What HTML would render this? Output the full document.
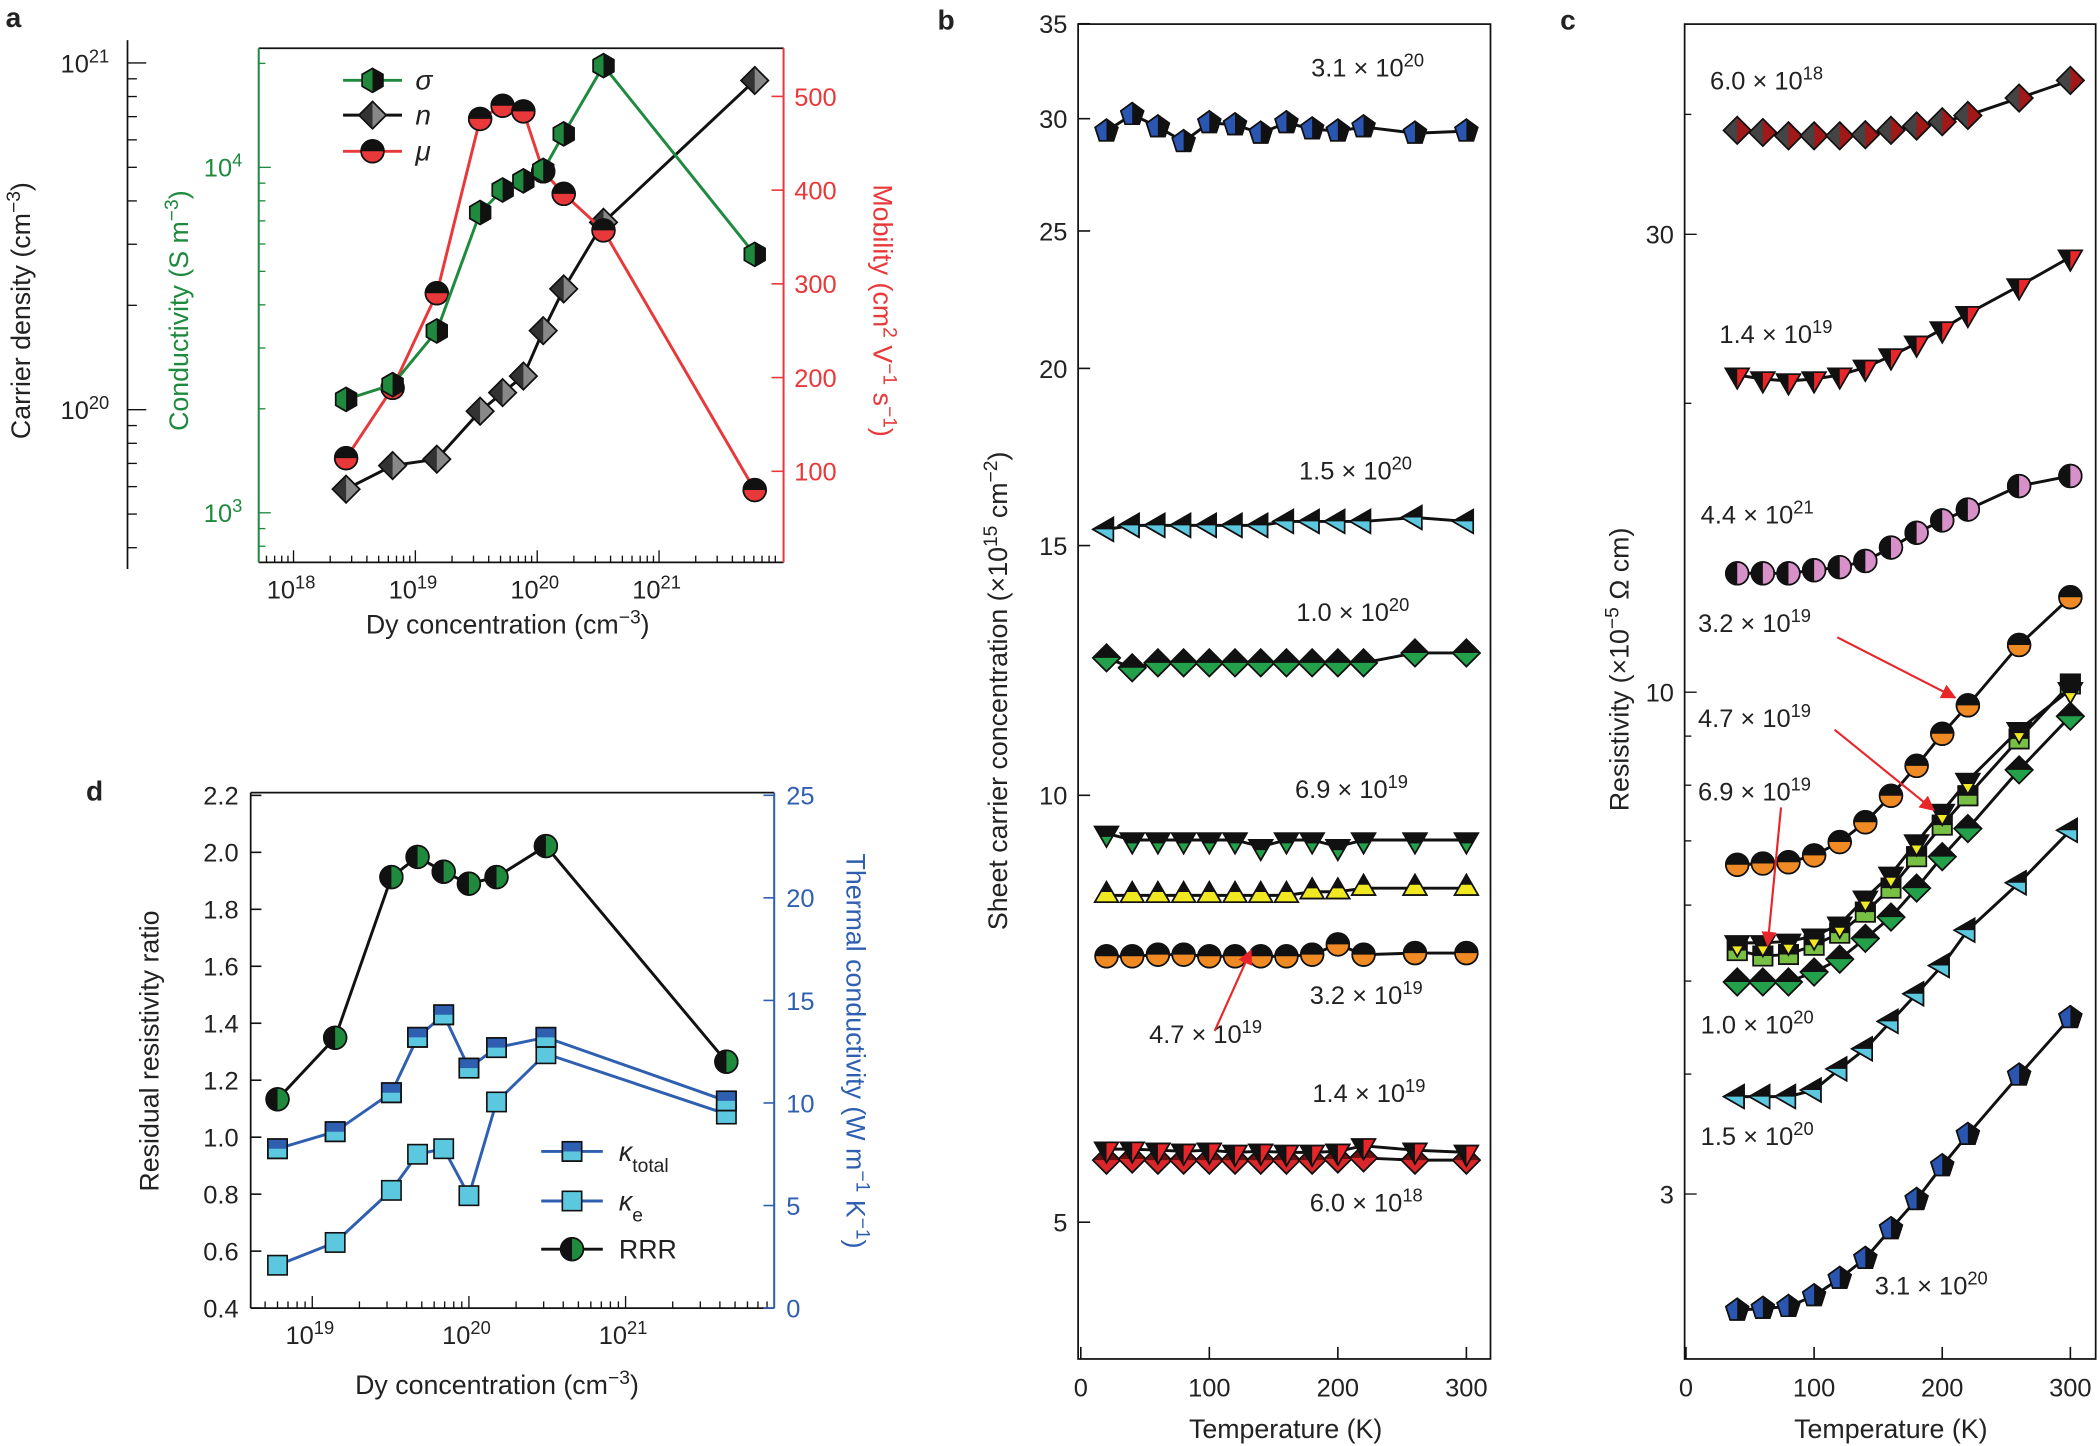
<!DOCTYPE html>
<html><head><meta charset="utf-8">
<style>
html,body{margin:0;padding:0;background:#fff;}
svg{display:block;font-family:"Liberation Sans",sans-serif;}
</style></head>
<body>
<svg id="fig" width="2100" height="1446" viewBox="0 0 1568 1080" xmlns="http://www.w3.org/2000/svg">
<defs>
<clipPath id="cL" clipPathUnits="objectBoundingBox"><rect x="0" y="0" width="0.5" height="1"/></clipPath>
<clipPath id="cR" clipPathUnits="objectBoundingBox"><rect x="0.5" y="0" width="0.5" height="1"/></clipPath>
<clipPath id="cT" clipPathUnits="objectBoundingBox"><rect x="0" y="0" width="1" height="0.5"/></clipPath>
<marker id="arr" viewBox="0 0 10 10" refX="9" refY="5" markerWidth="7" markerHeight="7" orient="auto"><path d="M0,0 L10,5 L0,10 z" fill="#e8262a"/></marker>
</defs>
</svg>
<script>
// ---------- DATA ----------
// Panel a
const aDy = [2.7e18, 6.5e18, 1.5e19, 3.4e19, 5.2e19, 7.7e19, 1.12e20, 1.65e20, 3.5e20, 6.1e21];
const aSigma = [2130, 2350, 3360, 7400, 8600, 9140, 9800, 12500, 19700, 5600];
const aN = [5.9e19, 6.9e19, 7.2e19, 9.9e19, 1.12e20, 1.25e20, 1.69e20, 2.23e20, 3.47e20, 8.9e20];
const aMu = [114, 189, 290, 476, 490, 484, 420, 396, 357, 80];
const aXTicks = [18, 19, 20, 21];
const aCarrierTicks = [20, 21];
const aSigmaTicks = [3, 4];
const aMuTicks = [100, 200, 300, 400, 500];
// Panel d
const dDy = [6.0e18, 1.4e19, 3.2e19, 4.7e19, 6.9e19, 1.0e20, 1.5e20, 3.1e20, 4.4e21];
const dRRR = [1.133, 1.349, 1.913, 1.984, 1.932, 1.890, 1.913, 2.022, 1.265];
const dKtot = [7.77, 8.6, 10.5, 13.2, 14.3, 11.7, 12.7, 13.2, 10.1];
const dKe = [2.09, 3.2, 5.74, 7.5, 7.77, 5.48, 10.05, 12.4, 9.46];
const dLeftTicks = [0.4, 0.6, 0.8, 1.0, 1.2, 1.4, 1.6, 1.8, 2.0, 2.2];
const dRightTicks = [0, 5, 10, 15, 20, 25];
const dXTicks = [19, 20, 21];
// Panel b
const bT = [20, 40, 60, 80, 100, 120, 140, 160, 180, 200, 220, 260, 300];
const b31e20 = [29.4, 30.2, 29.6, 28.9, 29.8, 29.7, 29.3, 29.8, 29.5, 29.4, 29.6, 29.3, 29.4];
const b15e20 = [15.4, 15.5, 15.5, 15.5, 15.5, 15.5, 15.5, 15.6, 15.6, 15.6, 15.6, 15.7, 15.6];
const b10e20 = [12.5, 12.3, 12.4, 12.4, 12.4, 12.4, 12.4, 12.4, 12.4, 12.4, 12.4, 12.6, 12.6];
const b69e19 = [9.4, 9.3, 9.3, 9.3, 9.3, 9.3, 9.2, 9.3, 9.3, 9.2, 9.3, 9.3, 9.3];
const b47e19 = [8.5, 8.5, 8.5, 8.5, 8.5, 8.5, 8.5, 8.5, 8.55, 8.55, 8.6, 8.6, 8.6];
const b32e19 = [7.7, 7.7, 7.72, 7.72, 7.7, 7.7, 7.7, 7.7, 7.72, 7.85, 7.72, 7.74, 7.74];
const b14e19 = [5.63, 5.63, 5.62, 5.61, 5.62, 5.6, 5.61, 5.6, 5.6, 5.61, 5.66, 5.62, 5.6];
const b60e18 = [5.53, 5.54, 5.53, 5.53, 5.53, 5.53, 5.53, 5.53, 5.53, 5.54, 5.55, 5.53, 5.53];
const bYTicks = [5, 10, 15, 20, 25, 30, 35];
const bXTicks = [0, 100, 200, 300];
// Panel c
const cT = [40, 60, 80, 100, 120, 140, 160, 180, 200, 220, 260, 300];
const c60e18 = [38.5, 38.3, 38.0, 38.0, 38.0, 38.1, 38.5, 38.9, 39.3, 39.9, 41.6, 43.4];
const c14e19 = [21.4, 21.2, 21.1, 21.2, 21.4, 21.8, 22.4, 23.1, 23.9, 24.8, 26.5, 28.4];
const c44e21 = [13.3, 13.3, 13.3, 13.4, 13.5, 13.7, 14.15, 14.66, 15.1, 15.5, 16.4, 16.8];
const c32e19 = [6.61, 6.63, 6.65, 6.76, 6.98, 7.32, 7.80, 8.38, 9.05, 9.69, 11.2, 12.56];
const c47e19 = [5.48, 5.48, 5.50, 5.57, 5.73, 6.10, 6.46, 6.98, 7.51, 8.09, 9.14, 10.06];
const c69e19 = [5.38, 5.31, 5.33, 5.45, 5.61, 5.90, 6.25, 6.74, 7.27, 7.80, 8.94, 10.2];
const c10e20 = [4.99, 4.99, 4.99, 5.11, 5.27, 5.54, 5.83, 6.25, 6.74, 7.21, 8.30, 9.44];
const c15e20 = [3.79, 3.79, 3.79, 3.85, 4.05, 4.25, 4.54, 4.85, 5.19, 5.65, 6.33, 7.18];
const c31e20 = [2.27, 2.28, 2.29, 2.35, 2.45, 2.57, 2.76, 2.96, 3.21, 3.46, 3.99, 4.58];
const cYTicks = [3, 10, 30];
const cXTicks = [0, 100, 200, 300];

// ---------- HELPERS ----------
const NS = "http://www.w3.org/2000/svg";
const svg = document.getElementById('fig');
function mk(tag, attrs, parent, name, inter) {
  const el = document.createElementNS(NS, tag);
  for (const k in attrs) el.setAttribute(k, attrs[k]);
  
  
  (parent || svg).appendChild(el);
  return el;
}
function txt(x, y, s, opts, parent, name) {
  const a = Object.assign({x: x, y: y, 'font-size': 19, fill: '#222'}, opts || {});
  const t = mk('text', a, parent, name);
  t.textContent = s;
  return t;
}
function supTxt(x, y, base, exp, tail, opts, parent, name) {
  const a = Object.assign({x: x, y: y, 'font-size': 19, fill: '#222'}, opts || {});
  const t = mk('text', a, parent, name);
  const s1 = mk('tspan', {}, t, name + '-base'); s1.textContent = base;
  const s2 = mk('tspan', {'baseline-shift': 'super', 'font-size': '72%'}, t, name + '-exp'); s2.textContent = exp;
  if (tail) { const s3 = mk('tspan', {}, t, name + '-tail'); s3.textContent = tail; }
  return t;
}
function line(x1, y1, x2, y2, stroke, w, parent, name) {
  return mk('line', {x1: x1, y1: y1, x2: x2, y2: y2, stroke: stroke, 'stroke-width': w || 1.3}, parent, name);
}
function polyPts(cx, cy, r, angles) {
  return angles.map(a => (cx + r * Math.cos(a * Math.PI / 180)).toFixed(2) + ',' + (cy + r * Math.sin(a * Math.PI / 180)).toFixed(2)).join(' ');
}
function shape(kind, x, y, r, fill, parent, name) {
  let el;
  if (kind === 'circle') el = mk('circle', {cx: x, cy: y, r: r}, parent, name);
  else if (kind === 'square') el = mk('rect', {x: x - r * 0.85, y: y - r * 0.85, width: r * 1.7, height: r * 1.7}, parent, name);
  else {
    const ang = {diamond: [-90, 0, 90, 180], hex: [-90, -30, 30, 90, 150, 210], pent: [-90, -18, 54, 126, 198],
      up: [-90, 30, 150], down: [90, 210, 330], left: [180, 300, 60]}[kind];
    const rr = kind === 'diamond' ? r * 1.2 : (kind === 'up' || kind === 'down' || kind === 'left') ? r * 1.2 : r * 1.05;
    el = mk('polygon', {points: polyPts(x, y, rr, ang)}, parent, name);
  }
  el.setAttribute('fill', fill);
  return el;
}
function marker(kind, x, y, r, fill, half, parent, name) {
  const g = mk('g', {}, parent, name);
  const a = shape(kind, x, y, r, fill, g, name + '-fill');
  a.setAttribute('stroke', '#111'); a.setAttribute('stroke-width', 1.2);
  if (half) {
    const b = shape(kind, x, y, r, half.color || '#111', g, name + '-half');
    b.setAttribute('clip-path', 'url(#c' + half.side + ')');
    const c = shape(kind, x, y, r, 'none', g, name + '-outline');
    c.setAttribute('stroke', '#111'); c.setAttribute('stroke-width', 1.2);
  }
  return g;
}
function series(xs, ys, xf, yf, lineColor, kind, fill, half, r, parent, name) {
  const g = mk('g', {}, parent, name);
  const pts = xs.map((v, i) => xf(v).toFixed(2) + ',' + yf(ys[i]).toFixed(2)).join(' ');
  mk('polyline', {points: pts, fill: 'none', stroke: lineColor, 'stroke-width': 2.2}, g, name + '-line');
  xs.forEach((v, i) => marker(kind, xf(v), yf(ys[i]), r, fill, half, g, name + '-point'));
  return g;
}
function rotTxt(x, y, parts, color, rot, name) {
  const t = mk('text', {x: 0, y: 0, 'font-size': 20, fill: color, 'text-anchor': 'middle',
    transform: 'translate(' + x + ',' + y + ') rotate(' + rot + ')'}, svg, name);
  parts.forEach((p, i) => {
    const s = mk('tspan', p[1] ? {'baseline-shift': 'super', 'font-size': '72%'} : {}, t, name + '-part');
    s.textContent = p[0];
  });
  return t;
}

const GREEN = '#1f8a3e', RED = '#e8383a', BLUE = '#2f5fb0', BLK = '#111';
const MR = 8.5;

// ---------- PANEL A ----------
const pa = mk('g', {}, svg, 'panel-a');
const aL = 193, aR = 585, aTop = 36, aB = 420;
const axA = v => 219 + (Math.log10(v) - 18) * 91;
const ayN = v => 306 - (Math.log10(v) - 20) * 259;
const ayS = v => 383 - (Math.log10(v) - 3) * 258;
const ayM = v => 422 - v * 0.7;
txt(4, 20, 'a', {'font-weight': 'bold', 'font-size': 21}, pa, 'panel-label-a');
line(aL, aTop, aR, aTop, BLK, 1.3, pa, 'a-top-border');
line(aL, aB, aR, aB, BLK, 1.3, pa, 'a-x-axis');
line(aL, aTop, aL, aB, GREEN, 1.5, pa, 'a-conductivity-axis');
line(aR, aTop, aR, aB, RED, 1.5, pa, 'a-mobility-axis');
line(95, 30, 95, 425, BLK, 1.3, pa, 'a-carrier-axis');
for (let d = 17; d <= 21; d++) for (let m = 1; m < 10; m++) {
  const v = m * Math.pow(10, d), x = axA(v);
  if (x < aL + 2 || x > aR - 2) continue;
  line(x, aB, x, aB - (m === 1 ? 9 : 5), BLK, 1, pa, 'a-x-tick');
}
aXTicks.forEach(e => supTxt(axA(Math.pow(10, e)) - 20, 447, '10', String(e), '', {}, pa, 'a-x-tick-label'));
supTxt(273, 473, 'Dy concentration (cm', '−3', ')', {'font-size': 20}, pa, 'a-x-title');
for (let d = 19; d <= 21; d++) for (let m = 1; m < 10; m++) {
  const y = ayN(m * Math.pow(10, d));
  if (y < 30 || y > 425) continue;
  line(95, y, 95 + (m === 1 ? 14 : 7), y, BLK, 1, pa, 'a-carrier-tick');
}
aCarrierTicks.forEach(e => supTxt(45, ayN(Math.pow(10, e)) + 7, '10', String(e), '', {}, pa, 'a-carrier-tick-label'));
for (let d = 2; d <= 4; d++) for (let m = 1; m < 10; m++) {
  const y = ayS(m * Math.pow(10, d));
  if (y < aTop || y > aB) continue;
  line(aL, y, aL + (m === 1 ? 9 : 5), y, GREEN, 1, pa, 'a-sigma-tick');
}
aSigmaTicks.forEach(e => supTxt(152, ayS(Math.pow(10, e)) + 7, '10', String(e), '', {fill: GREEN}, pa, 'a-sigma-tick-label'));
aMuTicks.forEach(v => { line(aR, ayM(v), aR - 9, ayM(v), RED, 1.2, pa, 'a-mu-tick');
  txt(593, ayM(v) + 7, String(v), {fill: RED}, pa, 'a-mu-tick-label'); });
rotTxt(22, 232, [['Carrier density (cm'], ['−3', 1], [')']], '#222', -90, 'a-carrier-title');
rotTxt(140, 232, [['Conductivity (S m'], ['−3', 1], [')']], GREEN, -90, 'a-sigma-title');
rotTxt(652, 232, [['Mobility (cm'], ['2', 1], [' V'], ['−1', 1], [' s'], ['−1', 1], [')']], RED, 90, 'a-mu-title');
series(aDy, aN, axA, ayN, BLK, 'diamond', '#888', {side: 'L', color: '#333'}, MR, pa, 'a-series-n');
series(aDy, aMu, axA, ayM, RED, 'circle', RED, {side: 'T'}, MR, pa, 'a-series-mu');
series(aDy, aSigma, axA, ayS, GREEN, 'hex', GREEN, {side: 'R'}, MR, pa, 'a-series-sigma');
[['σ', GREEN, 'hex', GREEN, {side: 'R'}, 60], ['n', BLK, 'diamond', '#888', {side: 'L', color: '#333'}, 86], ['μ', RED, 'circle', RED, {side: 'T'}, 113]].forEach(l => {
  const g = mk('g', {}, pa, 'a-legend-entry');
  line(256, l[5], 300, l[5], l[1], 2.2, g, 'a-legend-line');
  marker(l[2], 278, l[5], MR, l[3], l[4], g, 'a-legend-marker');
  txt(310, l[5] + 7, l[0], {'font-style': 'italic', 'font-size': 21}, g, 'a-legend-label');
});

// ---------- PANEL D ----------
const pd = mk('g', {}, svg, 'panel-d');
const dL = 187, dR = 578, dTop = 592, dB = 977;
const dx = v => 233 + (Math.log10(v) - 19) * 117;
const dyL = v => 977 - (v - 0.4) / 0.2 * 42.55;
const dyR = v => 977 - v * 15.32;
txt(64, 598, 'd', {'font-weight': 'bold', 'font-size': 21}, pd, 'panel-label-d');
line(dL, dTop, dR, dTop, BLK, 1.3, pd, 'd-top-border');
line(dL, dB, dR, dB, BLK, 1.3, pd, 'd-x-axis');
line(dL, dTop, dL, dB, BLK, 1.3, pd, 'd-left-axis');
line(dR, dTop, dR, dB, BLUE, 1.5, pd, 'd-right-axis');
for (let d = 18; d <= 21; d++) for (let m = 1; m < 10; m++) {
  const x = dx(m * Math.pow(10, d));
  if (x < dL + 2 || x > dR - 2) continue;
  line(x, dB, x, dB - (m === 1 ? 9 : 5), BLK, 1, pd, 'd-x-tick');
}
dXTicks.forEach(e => supTxt(dx(Math.pow(10, e)) - 20, 1004, '10', String(e), '', {}, pd, 'd-x-tick-label'));
supTxt(265, 1041, 'Dy concentration (cm', '−3', ')', {'font-size': 20}, pd, 'd-x-title');
dLeftTicks.forEach(v => { line(dL, dyL(v), dL + 8, dyL(v), BLK, 1.2, pd, 'd-left-tick');
  txt(178, dyL(v) + 7, v.toFixed(1), {'text-anchor': 'end'}, pd, 'd-left-tick-label'); });
dRightTicks.forEach(v => { line(dR, dyR(v), dR - 8, dyR(v), BLUE, 1.2, pd, 'd-right-tick');
  txt(587, dyR(v) + 7, String(v), {fill: BLUE}, pd, 'd-right-tick-label'); });
rotTxt(118, 785, [['Residual resistivity ratio']], '#222', -90, 'd-left-title');
rotTxt(632, 785, [['Thermal conductivity (W m'], ['−1', 1], [' K'], ['−1', 1], [')']], BLUE, 90, 'd-right-title');
series(dDy, dKe, dx, dyR, BLUE, 'square', '#5bc8e0', null, MR, pd, 'd-series-ke');
series(dDy, dKtot, dx, dyR, BLUE, 'square', '#5bc8e0', {side: 'T', color: BLUE}, MR, pd, 'd-series-ktotal');
series(dDy, dRRR, dx, dyL, BLK, 'circle', GREEN, {side: 'L'}, MR, pd, 'd-series-rrr');
[['κ', 'total', BLUE, 'square', {side: 'T', color: BLUE}, 860], ['κ', 'e', BLUE, 'square', null, 897], ['RRR', '', BLK, 'circle', {side: 'L'}, 933]].forEach(l => {
  const g = mk('g', {}, pd, 'd-legend-entry');
  line(404, l[5], 450, l[5], l[2], 2.2, g, 'd-legend-line');
  marker(l[3], 427, l[5], MR, l[3] === 'circle' ? GREEN : '#5bc8e0', l[4], g, 'd-legend-marker');
  const t = mk('text', {x: 462, y: l[5] + 7, 'font-size': 20, fill: '#222'}, g, 'd-legend-label');
  const s1 = mk('tspan', l[1] ? {'font-style': 'italic'} : {}, t, 'd-legend-label-base'); s1.textContent = l[0];
  if (l[1]) { const s2 = mk('tspan', {'baseline-shift': 'sub', 'font-size': '72%'}, t, 'd-legend-label-sub'); s2.textContent = l[1]; }
});

// ---------- PANEL B ----------
const pb = mk('g', {}, svg, 'panel-b');
const bL = 805, bR = 1113, bTop = 18, bB = 1015;
const bx = t => 807 + t * 0.96;
const by = v => 594 - 460 * Math.log(v / 10);
txt(700, 22, 'b', {'font-weight': 'bold', 'font-size': 21}, pb, 'panel-label-b');
mk('rect', {x: bL, y: bTop, width: bR - bL, height: bB - bTop, fill: 'none', stroke: BLK, 'stroke-width': 1.3}, pb, 'b-frame');
bYTicks.forEach(v => { line(bL, by(v), bL + 9, by(v), BLK, 1.2, pb, 'b-y-tick');
  txt(797, by(v) + 7, String(v), {'text-anchor': 'end'}, pb, 'b-y-tick-label'); });
bXTicks.forEach(v => { line(bx(v), bB, bx(v), bB - 9, BLK, 1.2, pb, 'b-x-tick');
  txt(bx(v), 1043, String(v), {'text-anchor': 'middle'}, pb, 'b-x-tick-label'); });
txt(960, 1074, 'Temperature (K)', {'text-anchor': 'middle', 'font-size': 20}, pb, 'b-x-title');
rotTxt(752, 516, [['Sheet carrier concentration (×10'], ['15', 1], [' cm'], ['−2', 1], [')']], '#222', -90, 'b-y-title');
const bSets = [[b60e18, 'diamond', '#d9262a', {side: 'T', color: '#6a1010'}, 'b-series-6e18'],
  [b14e19, 'down', '#e8262a', {side: 'L'}, 'b-series-1.4e19'],
  [b32e19, 'circle', '#f08a24', {side: 'T'}, 'b-series-3.2e19'],
  [b47e19, 'up', '#f0e820', {side: 'T'}, 'b-series-4.7e19'],
  [b69e19, 'down', '#22a04a', {side: 'T'}, 'b-series-6.9e19'],
  [b10e20, 'diamond', '#22a04a', {side: 'T'}, 'b-series-1.0e20'],
  [b15e20, 'left', '#5bc8e0', {side: 'T'}, 'b-series-1.5e20'],
  [b31e20, 'pent', '#2a55b0', {side: 'R'}, 'b-series-3.1e20']];
bSets.forEach(s => series(bT, s[0], bx, by, BLK, s[1], s[2], s[3], MR, pb, s[4]));
[['3.1 × 10', '20', 979, 57], ['1.5 × 10', '20', 970, 358], ['1.0 × 10', '20', 968, 464], ['6.9 × 10', '19', 967, 596],
 ['3.2 × 10', '19', 978, 750], ['4.7 × 10', '19', 858, 779], ['1.4 × 10', '19', 980, 823], ['6.0 × 10', '18', 978, 905]].forEach(l =>
  supTxt(l[2], l[3], l[0], l[1], '', {}, pb, 'b-series-label'));
mk('line', {x1: 907, y1: 770, x2: 934, y2: 710, stroke: '#e8262a', 'stroke-width': 1.6, 'marker-end': 'url(#arr)'}, pb, 'b-arrow');

// ---------- PANEL C ----------
const pc = mk('g', {}, svg, 'panel-c');
const cL = 1258, cR = 1565, cTop = 18, cB = 1015;
const cx = t => 1259 + t * 0.957;
const cy = v => 517 - 311.3 * Math.log(v / 10);
txt(1165, 22, 'c', {'font-weight': 'bold', 'font-size': 21}, pc, 'panel-label-c');
mk('rect', {x: cL, y: cTop, width: cR - cL, height: cB - cTop, fill: 'none', stroke: BLK, 'stroke-width': 1.3}, pc, 'c-frame');
[2, 3, 4, 5, 6, 7, 8, 9, 10, 20, 30, 40].forEach(v => { const y = cy(v); if (y > cTop && y < cB)
  line(cL, y, cL + (cYTicks.includes(v) ? 9 : 5), y, BLK, 1, pc, 'c-y-tick'); });
cYTicks.forEach(v => txt(1250, cy(v) + 7, String(v), {'text-anchor': 'end'}, pc, 'c-y-tick-label'));
cXTicks.forEach(v => { line(cx(v), cB, cx(v), cB - 9, BLK, 1.2, pc, 'c-x-tick');
  txt(cx(v), 1043, String(v), {'text-anchor': 'middle'}, pc, 'c-x-tick-label'); });
txt(1412, 1074, 'Temperature (K)', {'text-anchor': 'middle', 'font-size': 20}, pc, 'c-x-title');
rotTxt(1216, 500, [['Resistivity (×10'], ['−5', 1], [' Ω cm)']], '#222', -90, 'c-y-title');
const cSets = [[c60e18, 'diamond', '#a01818', {side: 'L', color: '#444'}, 'c-series-6e18'],
  [c14e19, 'down', '#e8262a', {side: 'L'}, 'c-series-1.4e19'],
  [c44e21, 'circle', '#d890c8', {side: 'L'}, 'c-series-4.4e21'],
  [c32e19, 'circle', '#f08a24', {side: 'T'}, 'c-series-3.2e19'],
  [c10e20, 'diamond', '#22a04a', {side: 'T'}, 'c-series-1.0e20'],
  [c69e19, 'square', '#78c043', {side: 'T'}, 'c-series-6.9e19'],
  [c47e19, 'down', '#f0e820', {side: 'T'}, 'c-series-4.7e19'],
  [c15e20, 'left', '#5bc8e0', {side: 'T'}, 'c-series-1.5e20'],
  [c31e20, 'pent', '#2a55b0', {side: 'R'}, 'c-series-3.1e20']];
cSets.forEach(s => series(cT, s[0], cx, cy, BLK, s[1], s[2], s[3], MR, pc, s[4]));
[['6.0 × 10', '18', 1277, 67], ['1.4 × 10', '19', 1284, 256], ['4.4 × 10', '21', 1270, 391], ['3.2 × 10', '19', 1268, 472],
 ['4.7 × 10', '19', 1268, 543], ['6.9 × 10', '19', 1268, 598], ['1.0 × 10', '20', 1270, 772], ['1.5 × 10', '20', 1270, 855],
 ['3.1 × 10', '20', 1400, 967]].forEach(l => supTxt(l[2], l[3], l[0], l[1], '', {}, pc, 'c-series-label'));
mk('line', {x1: 1372, y1: 476, x2: 1460, y2: 521, stroke: '#e8262a', 'stroke-width': 1.6, 'marker-end': 'url(#arr)'}, pc, 'c-arrow-3.2e19');
mk('line', {x1: 1370, y1: 545, x2: 1444, y2: 605, stroke: '#e8262a', 'stroke-width': 1.6, 'marker-end': 'url(#arr)'}, pc, 'c-arrow-4.7e19');
mk('line', {x1: 1330, y1: 603, x2: 1320, y2: 706, stroke: '#e8262a', 'stroke-width': 1.6, 'marker-end': 'url(#arr)'}, pc, 'c-arrow-6.9e19');
</script>
</body></html>
